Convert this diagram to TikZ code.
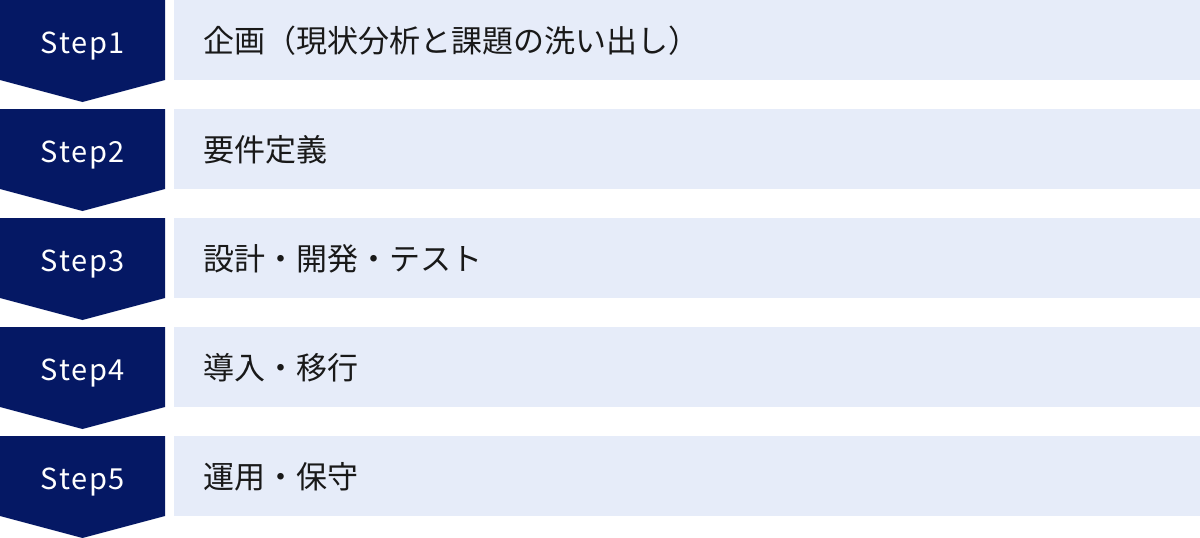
\documentclass[tikz,border=0pt]{standalone}
\usepackage{fontspec}
\setmainfont{Noto Sans CJK JP}
\usepackage{tikz}
\usetikzlibrary{calc}
\definecolor{navy}{RGB}{5,24,100}
\definecolor{paleblue}{RGB}{230,236,249}
\tikzset{
  stepbg/.style={fill=navy},
  taskbg/.style={fill=paleblue},
  steplabel/.style={anchor=base,text=white,font=\fontsize{29}{29}\selectfont\addfontfeature{LetterSpace=6}},
  tasklabel/.style={anchor=base west,text=black!90,font=\fontsize{31}{31}\selectfont}
}

\begin{document}
\begin{tikzpicture}[x=1pt,y=-1pt]
\useasboundingbox (0,0) rectangle (1200,538);

\coordinate (S1) at (0,0);
\coordinate (S2) at (0,109);
\coordinate (S3) at (0,218);
\coordinate (S4) at (0,327);
\coordinate (S5) at (0,436);

% chevrons
\fill[stepbg] (S1)--++(165,0)--++(0,80)--++(-82.5,22)--++(-82.5,-22)--cycle;
\fill[stepbg] (S2)--++(165,0)--++(0,80)--++(-82.5,22)--++(-82.5,-22)--cycle;
\fill[stepbg] (S3)--++(165,0)--++(0,80)--++(-82.5,22)--++(-82.5,-22)--cycle;
\fill[stepbg] (S4)--++(165,0)--++(0,80)--++(-82.5,22)--++(-82.5,-22)--cycle;
\fill[stepbg] (S5)--++(165,0)--++(0,80)--++(-82.5,22)--++(-82.5,-22)--cycle;

% task bars
\fill[taskbg] ($(S1)+(174,0)$) rectangle ++(1026,80);
\fill[taskbg] ($(S2)+(174,0)$) rectangle ++(1026,80);
\fill[taskbg] ($(S3)+(174,0)$) rectangle ++(1026,80);
\fill[taskbg] ($(S4)+(174,0)$) rectangle ++(1026,80);
\fill[taskbg] ($(S5)+(174,0)$) rectangle ++(1026,80);

\node[steplabel] (step1) at ($(S1)+(83,53)$) {Step1};
\node[steplabel] (step2) at ($(S2)+(83,53)$) {Step2};
\node[steplabel] (step3) at ($(S3)+(83,53)$) {Step3};
\node[steplabel] (step4) at ($(S4)+(83,53)$) {Step4};
\node[steplabel] (step5) at ($(S5)+(83,53)$) {Step5};

\node[tasklabel] (task1) at ($(S1)+(200,52)$) {企画（現状分析と課題の洗い出し）};
\node[tasklabel] (task2) at ($(S2)+(200,52)$) {要件定義};
\node[tasklabel] (task3) at ($(S3)+(200,52)$) {設計・開発・テスト};
\node[tasklabel] (task4) at ($(S4)+(200,52)$) {導入・移行};
\node[tasklabel] (task5) at ($(S5)+(200,52)$) {運用・保守};

\end{tikzpicture}
\end{document}
